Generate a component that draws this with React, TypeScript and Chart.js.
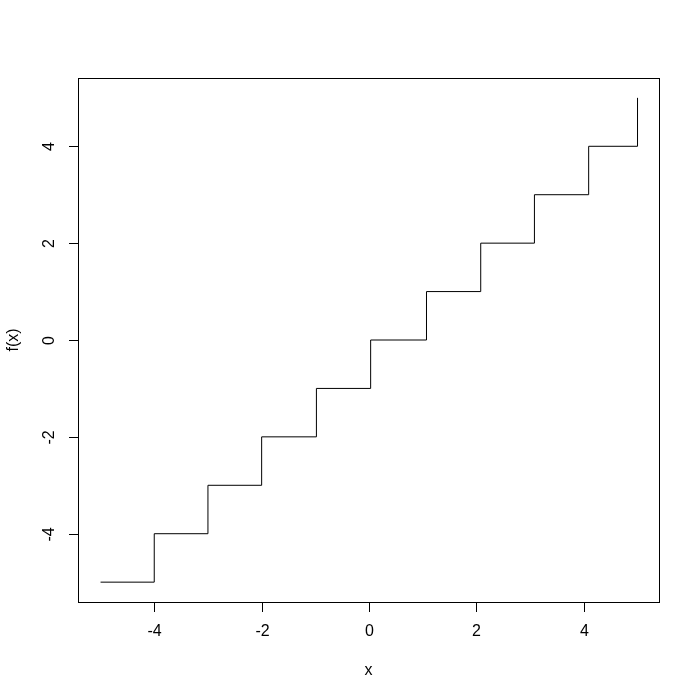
import React, { useEffect, useRef } from "react";
import { Chart, registerables } from "chart.js";

Chart.register(...registerables);

// Step function f(x) = floor(x) as sampled in the reference
const stepStarts = [-5, -4, -3, -2, -0.98, 0.03, 1.07, 2.08, 3.08, 4.09, 5];
const stepValues = [-5, -4, -3, -2, -1, 0, 1, 2, 3, 4, 5];
const xTicks = [-4, -2, 0, 2, 4];
const yTicks = [-4, -2, 0, 2, 4];
const xTitle = "x";
const yTitle = "f(x)";

const FONT = '16px "Liberation Sans", Arial, sans-serif';

const rAxesPlugin = {
  id: "rAxes",
  beforeDraw(chart: any) {
    const ctx = chart.ctx;
    ctx.save();
    ctx.fillStyle = "#ffffff";
    ctx.fillRect(0, 0, chart.width, chart.height);
    ctx.restore();
  },
  afterDraw(chart: any) {
    const ctx = chart.ctx;
    const a = chart.chartArea;
    const xs = chart.scales.x;
    const ys = chart.scales.y;
    const tick = 9.5;
    ctx.save();
    ctx.strokeStyle = "#000";
    ctx.lineWidth = 1;
    ctx.strokeRect(Math.round(a.left) + 0.5, Math.round(a.top) + 0.5, Math.round(a.right - a.left), Math.round(a.bottom - a.top));
    ctx.fillStyle = "#000";
    ctx.font = FONT;
    // x ticks
    ctx.textAlign = "center";
    ctx.textBaseline = "middle";
    const yb = Math.round(a.bottom) + 0.5;
    for (const t of xTicks) {
      const px = Math.round(xs.getPixelForValue(t)) + 0.5;
      ctx.beginPath();
      ctx.moveTo(px, yb);
      ctx.lineTo(px, yb + tick);
      ctx.stroke();
      ctx.fillText(String(t), px, 632);
    }
    // y ticks
    const xl = Math.round(a.left) + 0.5;
    for (const t of yTicks) {
      const py = Math.round(ys.getPixelForValue(t)) + 0.5;
      ctx.beginPath();
      ctx.moveTo(xl, py);
      ctx.lineTo(xl - tick, py);
      ctx.stroke();
      ctx.save();
      ctx.translate(50, py);
      ctx.rotate(-Math.PI / 2);
      ctx.fillText(String(t), 0, 0);
      ctx.restore();
    }
    // titles
    ctx.fillText(xTitle, (a.left + a.right) / 2, 671);
    ctx.save();
    ctx.translate(14, (a.top + a.bottom) / 2);
    ctx.rotate(-Math.PI / 2);
    ctx.fillText(yTitle, 0, 0);
    ctx.restore();
    ctx.restore();
  },
};

export default function App() {
  const ref = useRef<HTMLCanvasElement>(null);
  useEffect(() => {
    if (!ref.current) return;
    const data = stepStarts.map((x, i) => ({ x, y: stepValues[i] }));
    const chart = new Chart(ref.current, {
      type: "scatter",
      data: {
        datasets: [
          {
            data,
            showLine: true,
            stepped: "before",
            borderColor: "#000000",
            borderWidth: 1,
            pointRadius: 0,
            fill: false,
          },
        ],
      },
      options: {
        responsive: false,
        animation: false,
        layout: { padding: { left: 78, top: 78, right: 41, bottom: 98 } },
        plugins: { legend: { display: false }, tooltip: { enabled: false } },
        scales: {
          x: { type: "linear", min: -5.42, max: 5.4, display: false },
          y: { type: "linear", min: -5.41, max: 5.41, display: false },
        },
      },
      plugins: [rAxesPlugin],
    });
    return () => chart.destroy();
  }, []);
  return (
    <div style={{ position: "absolute", left: 0, top: 0, width: 700, height: 700, background: "#fff" }}>
      <canvas ref={ref} width={700} height={700} style={{ display: "block" }} />
    </div>
  );
}
